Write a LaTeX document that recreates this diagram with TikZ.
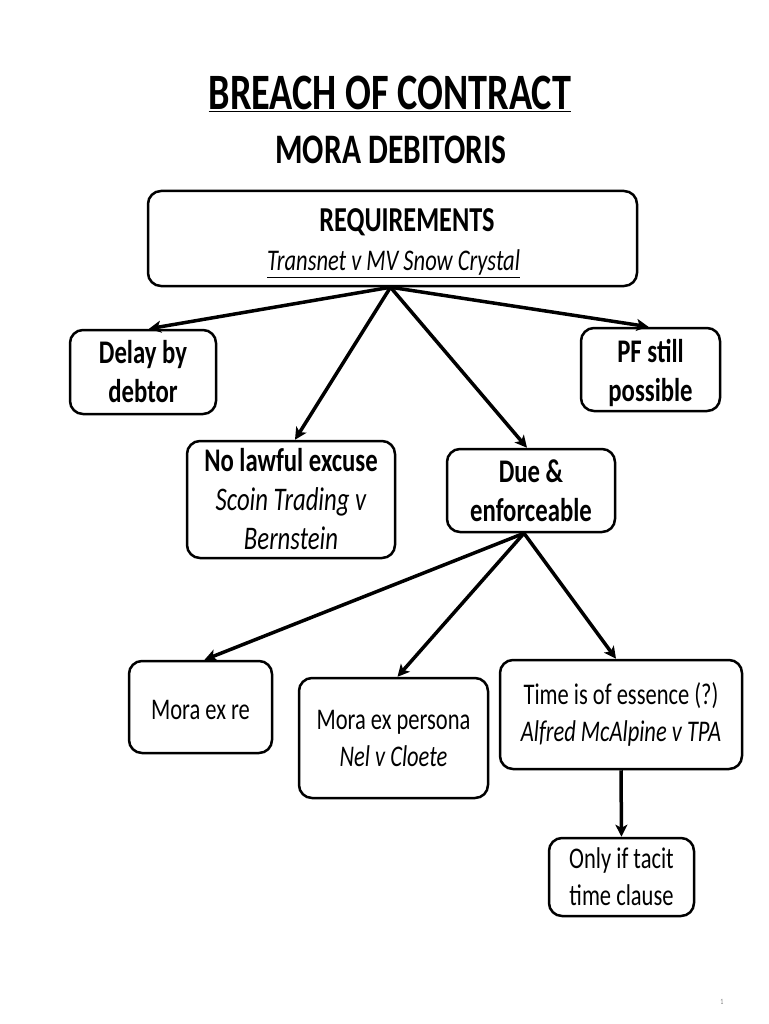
\documentclass[tikz,border=0pt]{standalone}
\usepackage{fontspec}
\setmainfont[FakeStretch=0.75]{Carlito}
\usetikzlibrary{arrows.meta,calc}
\begin{document}
\begin{tikzpicture}[x=1pt,y=-1pt,
  box/.style={draw, line width=2.5pt, rounded corners=13pt, inner sep=0pt, align=center},
  conn/.style={line width=3.5pt, -{Stealth[length=12pt,width=12pt,inset=3pt]}},
  bt/.style={font=\fontsize{33}{39}\selectfont\bfseries},
  rt/.style={font=\fontsize{30}{37}\selectfont}]
\fill[white] (0,0) rectangle (768,1024);
\useasboundingbox (0,0) rectangle (768,1024);

\node (title) at (390,94) {\fontsize{51}{56}\selectfont\bfseries\underline{BREACH OF CONTRACT}};
\node (sub) at (391,150) {\fontsize{42}{48}\selectfont\bfseries MORA DEBITORIS};

\node[box, minimum width=489pt, minimum height=95pt] (req) at (392.5,238.5) {};
\node[font=\fontsize{35}{40}\selectfont\bfseries] (reqt) at (407,222) {REQUIREMENTS};
\node[font=\fontsize{30}{34}\selectfont\itshape] (reqc) at (393.5,264) {\underline{Transnet v MV Snow Crystal}};

\node[box, bt, minimum width=146pt, minimum height=84pt] (delay) at (143,372) {Delay by\\debtor};
\node[box, minimum width=139pt, minimum height=83pt] (pf) at (650.5,369.5) {};
\node[bt, align=center] (pft) at (650.5,372.5) {PF still\\possible};
\node[box, bt, minimum width=208pt, minimum height=117pt] (nle) at (291,499.5)
  {No lawful excuse\\{\mdseries\itshape Scoin Trading v}\\{\mdseries\itshape Bernstein}};
\node[box, bt, minimum width=168pt, minimum height=83pt] (due) at (531,490.5) {Due \&\\enforceable};

\node[box, minimum width=143pt, minimum height=92pt] (mre) at (200.5,707) {};
\node[rt] (mret) at (200.5,710) {Mora ex re};
\node[box, rt, minimum width=189pt, minimum height=120pt] (mep) at (393.5,738) {Mora ex persona\\{\itshape Nel v Cloete}};
\node[box, rt, minimum width=242pt, minimum height=109pt] (time) at (621,714.5) {Time is of essence (?)\\{\itshape Alfred McAlpine v TPA}};
\node[box, rt, minimum width=145pt, minimum height=78pt] (only) at (621.5,877) {Only if tacit\\time clause};

\coordinate (rs) at ($(req.south)+(-2,0)$);
\draw[conn] (rs) -- ($(delay.north)+(6,0)$);
\draw[conn] (rs) -- ($(pf.north)+(-2,0)$);
\draw[conn] (rs) -- ($(nle.north)+(4,0)$);
\draw[conn] (rs) -- ($(due.north)+(-4,0)$);

\coordinate (ds) at ($(due.south)+(-7,0)$);
\draw[conn] (ds) -- ($(mre.north)+(4,0)$);
\draw[conn] (ds) -- ($(mep.north)+(4,0)$);
\draw[conn] (ds) -- ($(time.north)+(-5,0)$);
\draw[conn] (time.south) -- (only.north);

\node[text=gray, font=\fontsize{8}{9}\selectfont] (pg) at (722,1002) {1};
\end{tikzpicture}
\end{document}
